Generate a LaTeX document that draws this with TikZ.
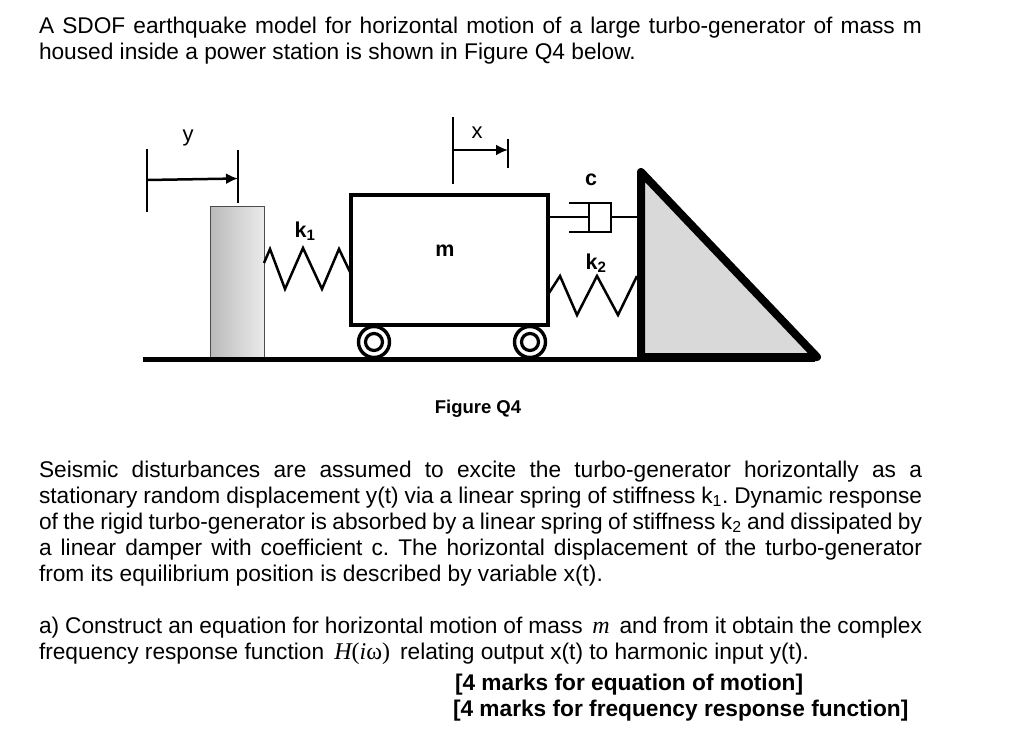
\documentclass[tikz,border=0pt]{standalone}
\usepackage{fontspec}
\setmainfont{Liberation Sans}
\newfontfamily\serifit{Liberation Serif}
\usetikzlibrary{arrows.meta}
\frenchspacing
\newcommand{\jline}[1]{\makebox[883pt][s]{#1}}
\newcommand{\mathm}{{\serifit\itshape\fontsize{24pt}{26pt}\selectfont m}}
\tikzset{
  every node/.style={inner sep=0pt,outer sep=0pt},
  body/.style={anchor=base west,font=\fontsize{22.7pt}{26pt}\selectfont},
  marks/.style={anchor=base west,font=\fontsize{22.7pt}{26pt}\selectfont\bfseries},
  lab/.style={font=\fontsize{22pt}{24pt}\selectfont},
  blab/.style={font=\fontsize{21.5pt}{24pt}\selectfont\bfseries},
  tick/.style={line width=1.9pt,draw=black},
  dim/.style={line width=2.5pt,draw=black,-{Latex[length=12pt,width=11pt]},shorten >=0pt},
  thin line/.style={line width=2.3pt,draw=black},
  springline/.style={line width=2.5pt,draw=black,line join=miter},
  massbox/.style={line width=3.6pt,draw=black},
}
\begin{document}
\begin{tikzpicture}[x=1pt,y=-1pt]
\useasboundingbox (0,0) rectangle (1024,738);
\fill[white] (0,0) rectangle (1024,738);

% text
\node[body] (t1) at (39,34) {\jline{A SDOF earthquake model for horizontal motion of a large turbo-generator of mass m}};
\node[body] (t2) at (39,60) {housed inside a power station is shown in Figure Q4 below.};
\node[body] (t3) at (39,477) {\jline{Seismic disturbances are assumed to excite the turbo-generator horizontally as a}};
\node[body] (t4) at (39,503) {\jline{stationary random displacement y(t) via a linear spring of stiffness k\textsubscript{1}. Dynamic response}};
\node[body] (t5) at (39,529) {\jline{of the rigid turbo-generator is absorbed by a linear spring of stiffness k\textsubscript{2} and dissipated by}};
\node[body] (t6) at (39,555) {\jline{a linear damper with coefficient c. The horizontal displacement of the turbo-generator}};
\node[body] (t7) at (39,581) {from its equilibrium position is described by variable x(t).};
\node[body] (t8) at (39,633) {\jline{a) Construct an equation for horizontal motion of mass \,\mathm\, and from it obtain the complex}};
\node[body] (t9) at (39,659) {frequency response function \,{\serifit\fontsize{24pt}{26pt}\selectfont\itshape H\upshape(\itshape i\upshape ω)}\, relating output x(t) to harmonic input y(t).};
\node[marks] (m1) at (455,690) {[4 marks for equation of motion]};
\node[marks] (m2) at (453,716) {[4 marks for frequency response function]};
\node[font=\fontsize{18.5pt}{20pt}\selectfont\bfseries] (fig) at (478,409) {Figure Q4};

% coordinates
\coordinate (yT1) at (147,149); \coordinate (yB1) at (147,212);
\coordinate (yT2) at (238,150); \coordinate (yB2) at (238,203);
\coordinate (yA) at (147,180); \coordinate (yAe) at (238,178.5);
\coordinate (xT1) at (453,117); \coordinate (xB1) at (453,184);
\coordinate (xT2) at (508,139); \coordinate (xB2) at (508,168);
\coordinate (xA) at (453,150); \coordinate (xAe) at (508,150);

% column
\draw[line width=1pt,draw=black!70,left color=black!27,right color=black!8] (210,206) rectangle (264,357);

% ground
\coordinate (g1) at (143,359); \coordinate (g2) at (815,359);
\draw[line width=5pt] (g1) -- (g2);

% dimensions
\draw[tick] (yT1) -- (yB1);
\draw[tick] (yT2) -- (yB2);
\draw[dim] (yA) -- (yAe);
\draw[tick] (xT1) -- (xB1);
\draw[tick] (xT2) -- (xB2);
\draw[dim] (xA) -- (xAe);

% spring k1
\draw[springline] (264,263) -- (270,249) -- (285,289) -- (303,248) -- (322,289) -- (339,249) -- (350,272);

% mass
\node[massbox,minimum width=197pt,minimum height=130pt,anchor=north west] (mass) at (351,195) {};
\node[blab] at (445,251) {m};

% wheels
\foreach \n/\cx/\cy in {wa/374/342,wb/530/342}{
  \node[circle,draw=black,fill=white,line width=3.4pt,minimum size=31pt] (\n) at (\cx,\cy) {};
  \node[circle,draw=black,fill=white,line width=3.2pt,minimum size=17pt] at (\cx,\cy) {};
}

% triangle
\draw[line width=8pt,line join=round,fill=black!15] (641,172) -- (641,357) -- (817,357) -- cycle;

% damper
\coordinate (dL) at (589,217); \coordinate (dR) at (611,217);
\draw[thin line] (mass.east |- dL) -- (dL);
\draw[thin line] (dR) -- (638,217);
\draw[thin line] (569,203) -- (611,203) -- (611,232) -- (569,232);
\draw[thin line] (589,203) -- (589,232);

% spring k2
\draw[springline] (549,293) -- (560,276) -- (577,315) -- (597,276) -- (618,315) -- (637,276);

% labels
\node[lab] (ly) at (188,138) {y};
\node[lab] (lx) at (477,133) {x};
\node[blab] (lk1) at (305,231) {k\textsubscript{1}};
\node[blab] (lc) at (591,180) {c};
\node[blab] (lk2) at (596,263) {k\textsubscript{2}};
\end{tikzpicture}
\end{document}
